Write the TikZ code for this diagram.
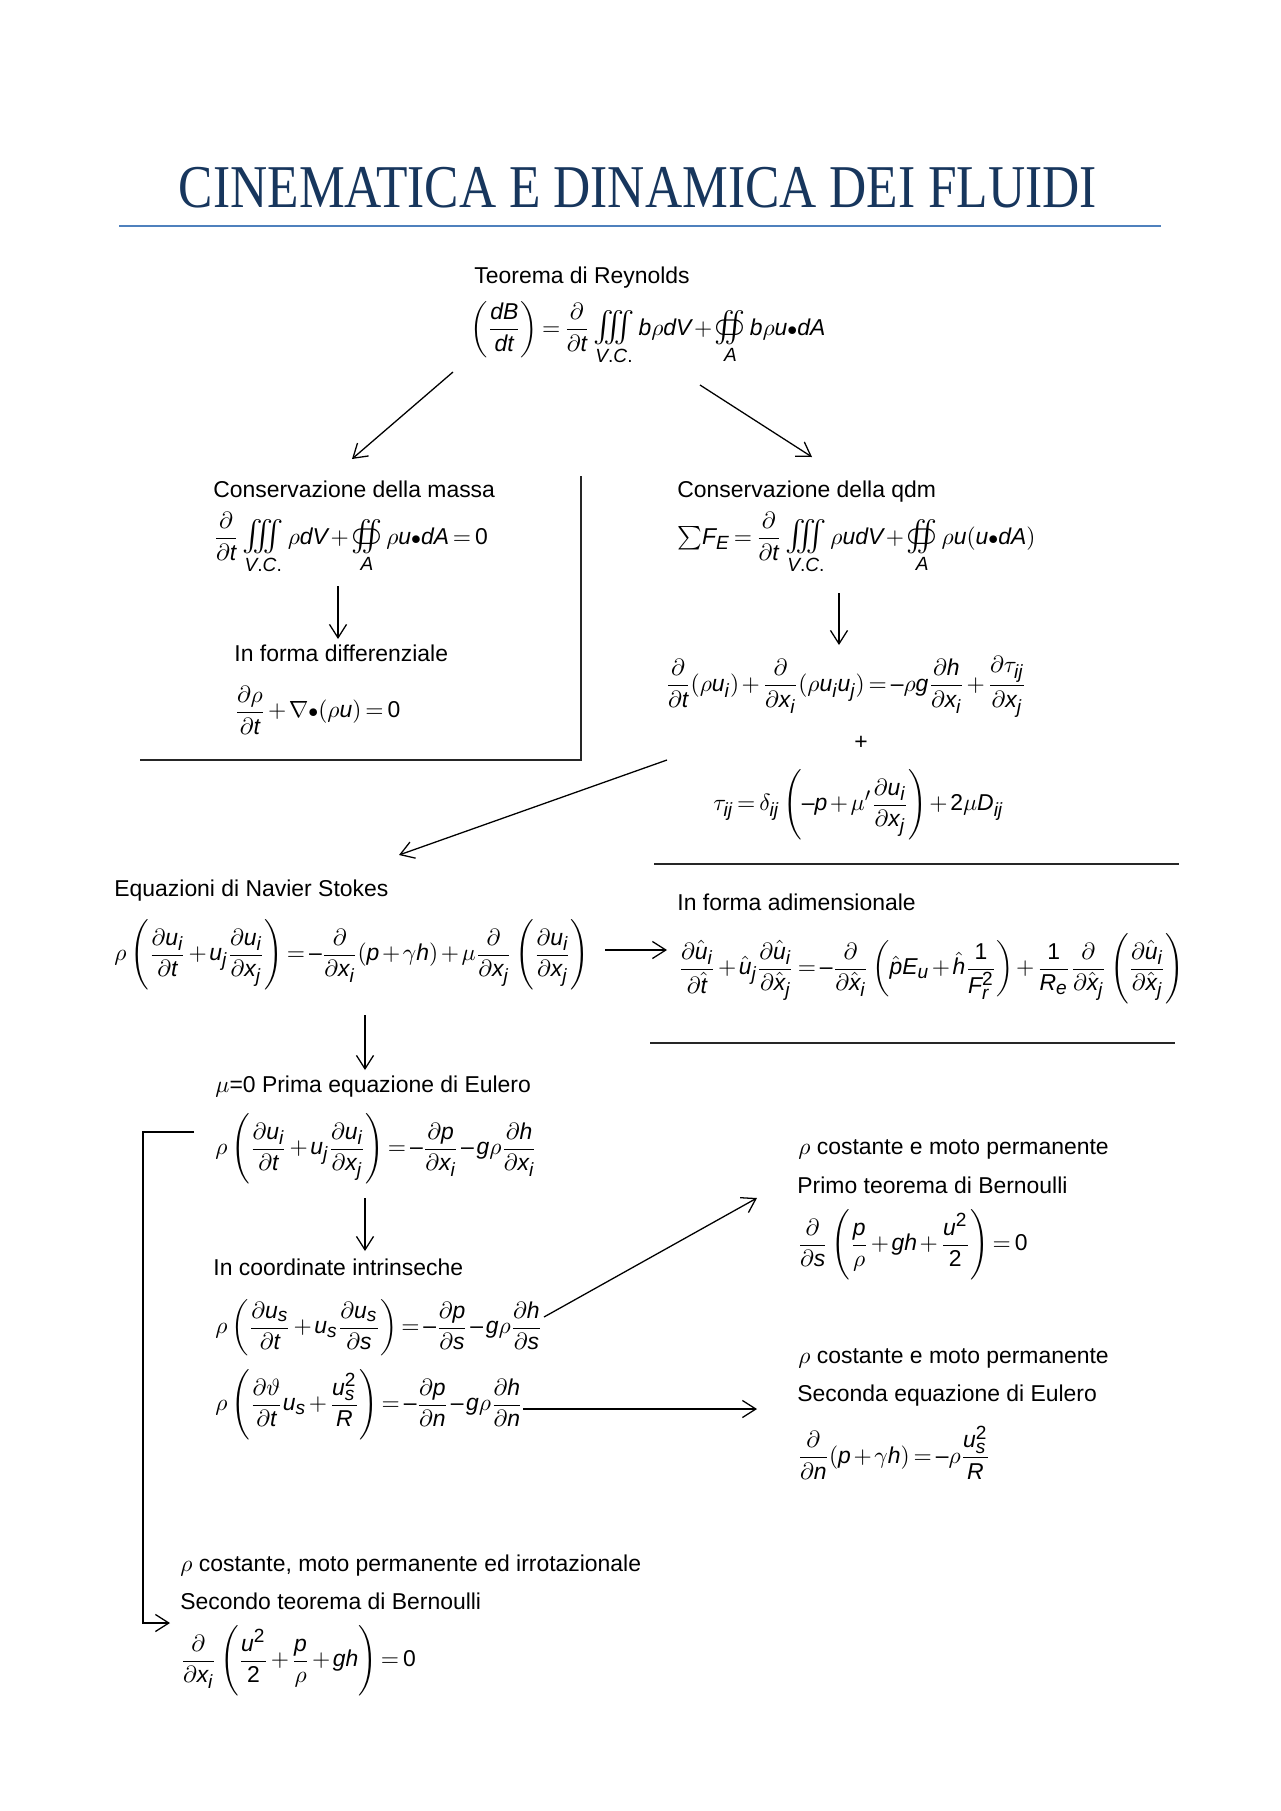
\documentclass[tikz,border=0pt]{standalone}
\usepackage{amsmath}
\usepackage{esint}
\usepackage{graphicx}
\usepackage{fontspec}
\setmainfont{Liberation Sans}
\newfontfamily\titlefont{Liberation Serif}
\usepackage[italic]{mathastext}
\usetikzlibrary{arrows.meta}
\definecolor{titleblue}{HTML}{17365D}
\definecolor{ruleblue}{HTML}{4F81BD}
\newcommand{\pdot}{{\scriptstyle\bullet}}
\newcommand{\nm}[1]{\text{#1}}
\newcommand{\vint}{\mathop{\scalebox{1.35}{$\textstyle\iiint$}}\limits}
\newcommand{\sint}{\mathop{\scalebox{1.35}{$\textstyle\oiint$}}\limits}
\medmuskip=2mu plus 1mu
\thickmuskip=3mu plus 2mu
\begin{document}
\begin{tikzpicture}[x=0.1640625mm, y=-0.1640625mm,
  every node/.style={inner sep=0pt, font=\fontsize{10.7}{13}\selectfont},
  lbl/.style={anchor=base west},
  eqn/.style={anchor=west},
  arr/.style={-{Straight Barb[length=2.2mm,width=2.8mm]}, line width=0.6pt},
  sep/.style={line width=0.8pt, black!85}]
\useasboundingbox (0,0) rectangle (1280,1811);
% title
\node[anchor=base, text=titleblue] (title) at (638,208) {\resizebox{150.6mm}{6.6mm}{\titlefont CINEMATICA E DINAMICA DEI FLUIDI}};
\draw[ruleblue, line width=1.2pt] (119,226) -- (1161,226);
% Reynolds
\node[lbl] (reyntxt) at (474,283) {Teorema di Reynolds};
\node[eqn] (reyneq) at (470,333) {$\displaystyle\left(\frac{dB}{dt}\right)=\frac{\partial}{\partial t}\vint_{V.C.} b\rho dV+\sint_{A} b\rho u\pdot dA$};
\coordinate (r1s) at (453,372); \coordinate (r1e) at (352,459);
\coordinate (r2s) at (700,385); \coordinate (r2e) at (812,457);
\draw[arr] (r1s) -- (r1e); \draw[arr] (r2s) -- (r2e);
% conservazione della massa
\node[lbl] (massatxt) at (213,497) {Conservazione della massa};
\node[eqn] (massaeq) at (213,543) {$\displaystyle\frac{\partial}{\partial t}\vint_{V.C.}\rho dV+\sint_{A}\rho u\pdot dA=\nm{0}$};
\coordinate (m1s) at (338,586); \coordinate (m1e) at (338,639);
\draw[arr] (m1s) -- (m1e);
\node[lbl] (difftxt) at (234,661) {In forma differenziale};
\node[eqn] (diffeq) at (234,710) {$\displaystyle\frac{\partial\rho}{\partial t}+\nabla\pdot(\rho u)=\nm{0}$};
\coordinate (b1) at (581,476); \coordinate (b2) at (140,760);
\draw[sep] (b1) |- (b2);
% conservazione della qdm
\node[lbl] (qdmtxt) at (677,497) {Conservazione della qdm};
\node[eqn] (qdmeq) at (677,543) {$\displaystyle{\textstyle\sum} F_E=\frac{\partial}{\partial t}\vint_{V.C.}\rho u dV+\sint_{A}\rho u(u\pdot dA)$};
\coordinate (q1s) at (839,593); \coordinate (q1e) at (839,645);
\draw[arr] (q1s) -- (q1e);
\node[eqn] (qdmdiff) at (665,687) {$\displaystyle\frac{\partial}{\partial t}(\rho u_i)+\frac{\partial}{\partial x_i}(\rho u_i u_j)=-\rho g\frac{\partial h}{\partial x_i}+\frac{\partial\tau_{ij}}{\partial x_j}$};
\node (piu) at (861,743) {+};
\node[eqn] (taueq) at (713,805) {$\displaystyle\tau_{ij}=\delta_{ij}\left(-p+\mu'\frac{\partial u_i}{\partial x_j}\right)+\nm{2}\mu D_{ij}$};
\coordinate (l1a) at (654,864); \coordinate (l1b) at (1179,864);
\draw[sep] (l1a) -- (l1b);
\coordinate (n1s) at (667,760); \coordinate (n1e) at (399,855);
\draw[arr] (n1s) -- (n1e);
% Navier Stokes
\node[lbl] (nstxt) at (114,896) {Equazioni di Navier Stokes};
\node[eqn] (nseq) at (114,955) {$\displaystyle\rho\left(\frac{\partial u_i}{\partial t}+u_j\frac{\partial u_i}{\partial x_j}\right)=-\frac{\partial}{\partial x_i}(p+\gamma h)+\mu\frac{\partial}{\partial x_j}\left(\frac{\partial u_i}{\partial x_j}\right)$};
\coordinate (a1s) at (605,950); \coordinate (a1e) at (667,950);
\draw[arr] (a1s) -- (a1e);
\node[lbl] (adimtxt) at (677,910) {In forma adimensionale};
\node[eqn] (adimeq) at (678,969) {$\displaystyle\frac{\partial\hat u_i}{\partial\hat t}+\hat u_j\frac{\partial\hat u_i}{\partial\hat x_j}=-\frac{\partial}{\partial\hat x_i}\left(\hat pE_u+\hat h\frac{\nm{1}}{F_r^{\nm{2}}}\right)+\frac{\nm{1}}{R_e}\frac{\partial}{\partial\hat x_j}\left(\frac{\partial\hat u_i}{\partial\hat x_j}\right)$};
\coordinate (l2a) at (650,1043); \coordinate (l2b) at (1175,1043);
\draw[sep] (l2a) -- (l2b);
% Eulero
\coordinate (e1s) at (365,1015); \coordinate (e1e) at (365,1070);
\draw[arr] (e1s) -- (e1e);
\node[lbl] (eultxt) at (215,1092) {$\mu$=0 Prima equazione di Eulero};
\node[eqn] (euleq) at (215,1149) {$\displaystyle\rho\left(\frac{\partial u_i}{\partial t}+u_j\frac{\partial u_i}{\partial x_j}\right)=-\frac{\partial p}{\partial x_i}-g\rho\frac{\partial h}{\partial x_i}$};
\coordinate (k1) at (194,1132); \coordinate (k2) at (143,1132);
\coordinate (k3) at (143,1623); \coordinate (k4) at (170,1623);
\draw[arr] (k1) -- (k2) -- (k3) -- (k4);
\coordinate (e2s) at (365,1198); \coordinate (e2e) at (365,1251);
\draw[arr] (e2s) -- (e2e);
% coordinate intrinseche
\node[lbl] (intrtxt) at (213,1275) {In coordinate intrinseche};
\node[eqn] (intreqs) at (215,1328) {$\displaystyle\rho\left(\frac{\partial u_s}{\partial t}+u_s\frac{\partial u_s}{\partial s}\right)=-\frac{\partial p}{\partial s}-g\rho\frac{\partial h}{\partial s}$};
\node[eqn] (intreqn) at (215,1405) {$\displaystyle\rho\left(\frac{\partial\vartheta}{\partial t}u_s+\frac{u_s^{\nm{2}}}{R}\right)=-\frac{\partial p}{\partial n}-g\rho\frac{\partial h}{\partial n}$};
\coordinate (s1s) at (544,1317); \coordinate (s1e) at (757,1198);
\coordinate (s2s) at (523,1409); \coordinate (s2e) at (757,1409);
\draw[arr] (s1s) -- (s1e); \draw[arr] (s2s) -- (s2e);
% Bernoulli
\node[lbl] (bern1a) at (798,1154) {$\rho$ costante e moto permanente};
\node[lbl] (bern1b) at (797,1193) {Primo teorema di Bernoulli};
\node[eqn] (bern1eq) at (797,1245) {$\displaystyle\frac{\partial}{\partial s}\left(\frac{p}{\rho}+gh+\frac{u^{\nm{2}}}{\nm{2}}\right)=\nm{0}$};
\node[lbl] (eul2a) at (798,1363) {$\rho$ costante e moto permanente};
\node[lbl] (eul2b) at (797,1401) {Seconda equazione di Eulero};
\node[eqn] (eul2eq) at (797,1453) {$\displaystyle\frac{\partial}{\partial n}(p+\gamma h)=-\rho\frac{u_s^{\nm{2}}}{R}$};
\node[lbl] (bern2a) at (180,1571) {$\rho$ costante, moto permanente ed irrotazionale};
\node[lbl] (bern2b) at (180,1609) {Secondo teorema di Bernoulli};
\node[eqn] (bern2eq) at (180,1661) {$\displaystyle\frac{\partial}{\partial x_i}\left(\frac{u^{\nm{2}}}{\nm{2}}+\frac{p}{\rho}+gh\right)=\nm{0}$};
\end{tikzpicture}
\end{document}
